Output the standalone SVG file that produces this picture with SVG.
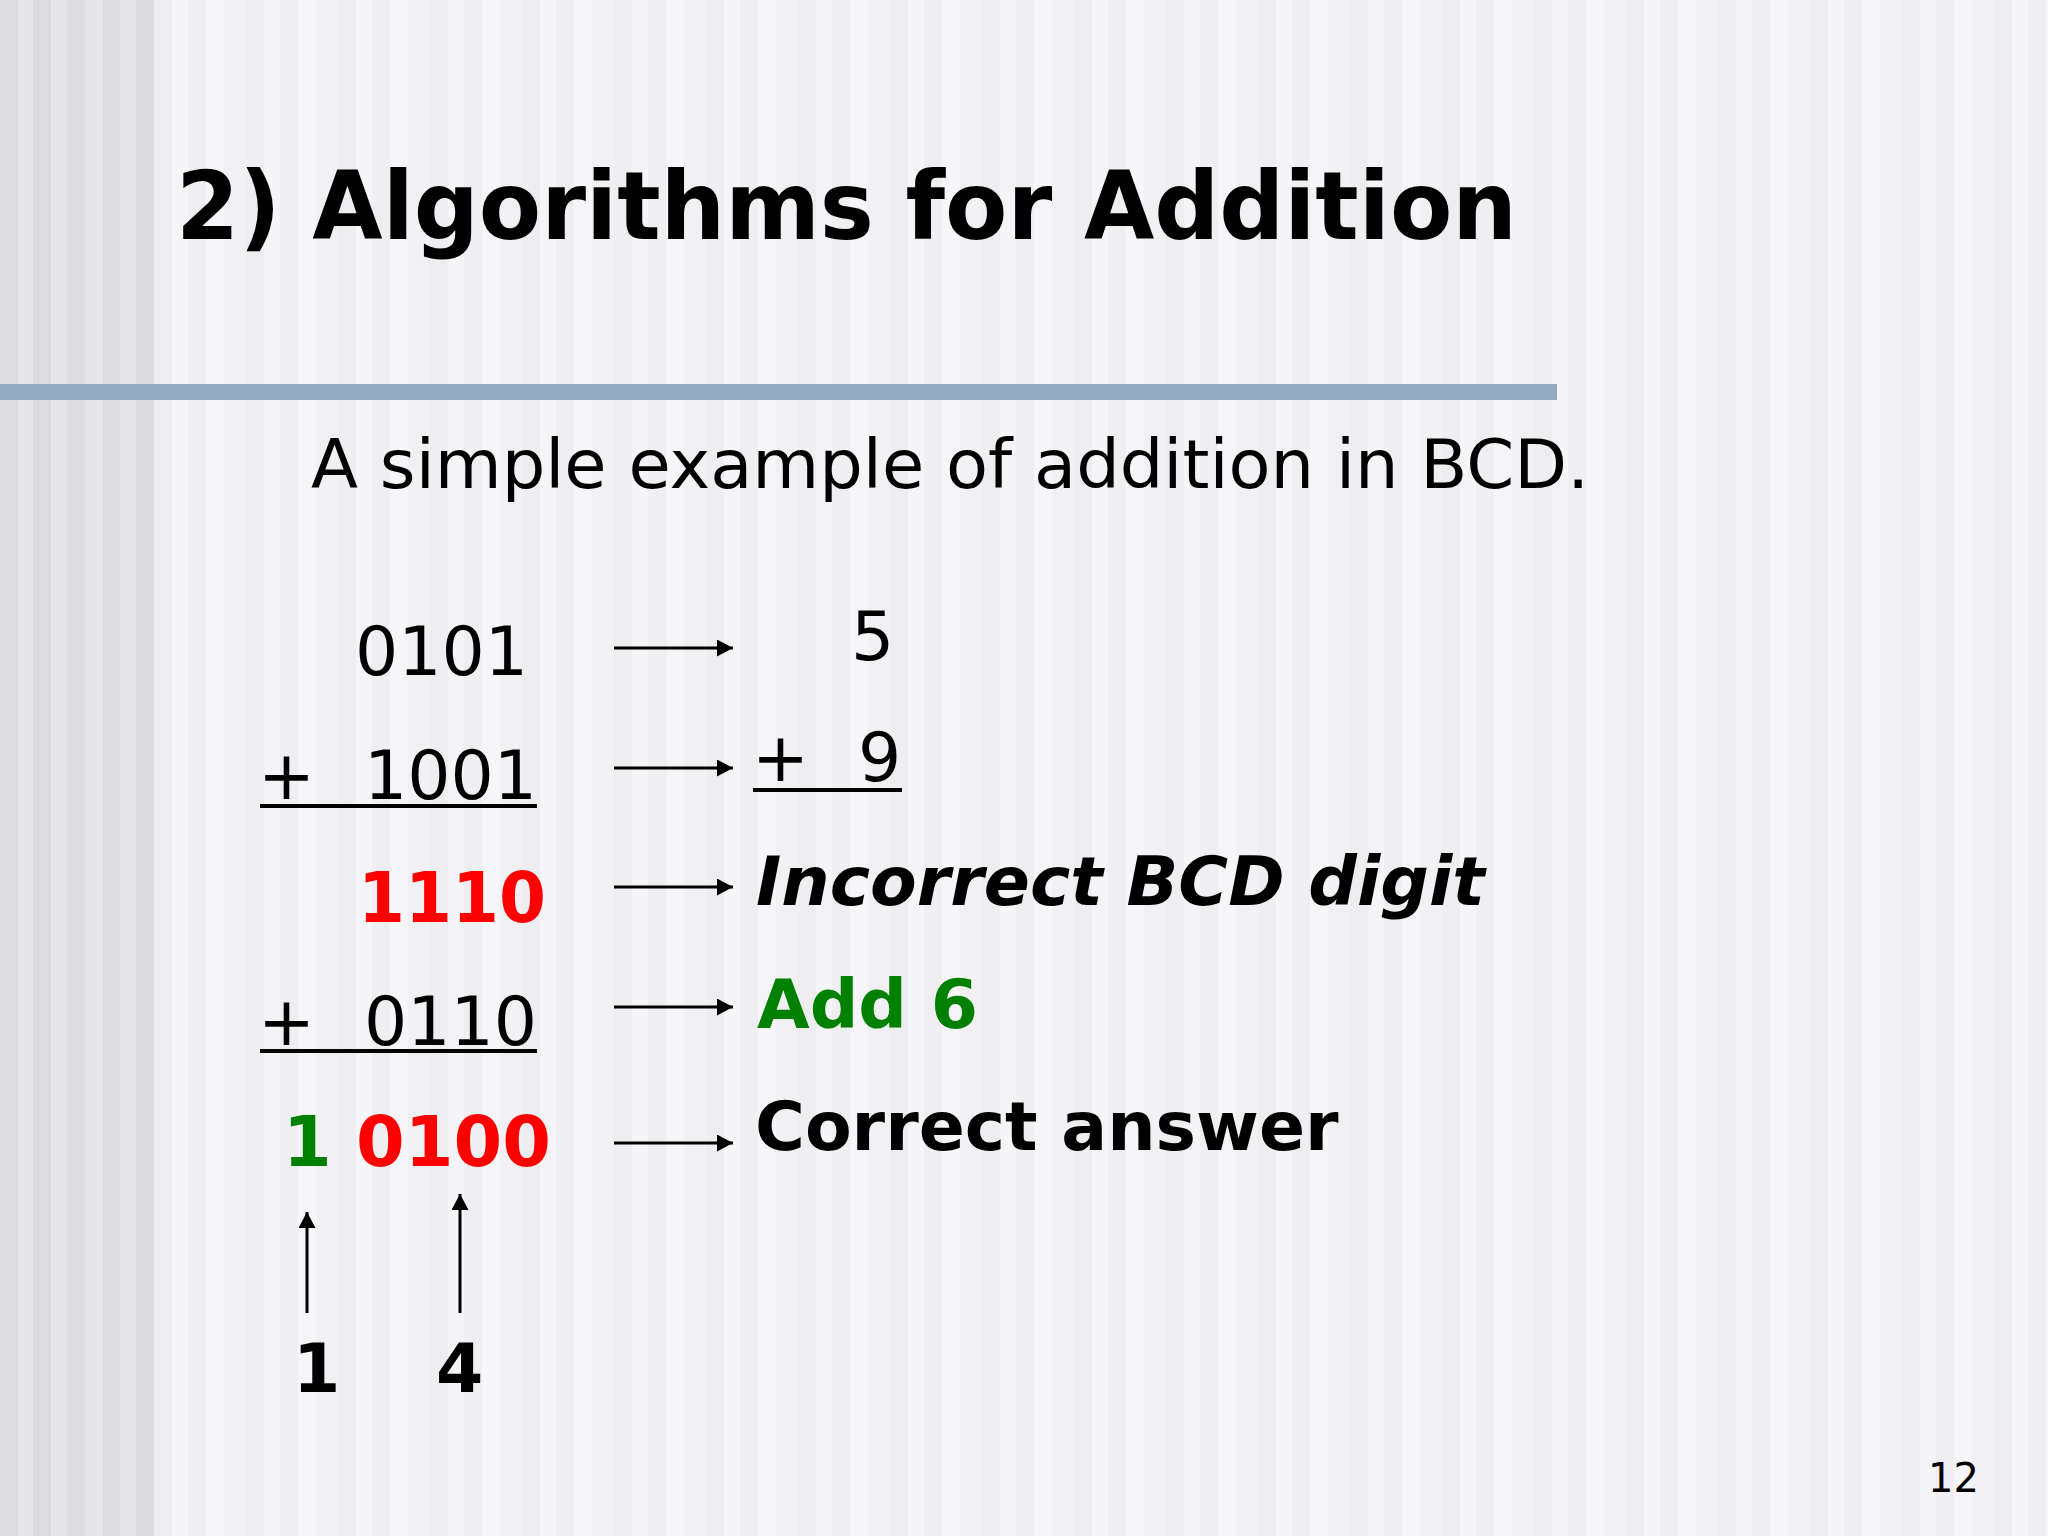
<svg xmlns="http://www.w3.org/2000/svg" width="2048" height="1536" viewBox="0 0 2048 1536">
  <style>
    .t { font-family: "DejaVu Sans", Verdana, sans-serif; fill: #000; }
    .reg { font-size: 68px; font-weight: normal; }
    .bold { font-size: 68px; font-weight: bold; }
    .big { font-size: 70px; font-weight: bold; }
    .red { fill: #ff0000; }
    .green { fill: #008000; }
    .conn line { stroke: #000; stroke-width: 3; }
    .uline { stroke: #000; stroke-width: 4; }
  </style>
  <defs>
    <marker id="ah" viewBox="0 0 16 17" refX="16" refY="8.5" markerWidth="16" markerHeight="17" markerUnits="userSpaceOnUse" orient="auto">
      <path d="M0,0 L16,8.5 L0,17 z" fill="#000"/>
    </marker>
    <pattern id="stripes" x="154" y="0" width="92" height="1536" patternUnits="userSpaceOnUse">
      <rect x="0" y="0" width="92" height="1536" fill="#f1f1f3"/>
      <rect x="0" y="0" width="18" height="1536" fill="#eeeef0"/>
      <rect x="18" y="0" width="16" height="1536" fill="#f5f5f7"/>
      <rect x="34" y="0" width="18" height="1536" fill="#efeff1"/>
      <rect x="52" y="0" width="18" height="1536" fill="#f6f6f8"/>
    </pattern>
  </defs>

  <g id="background">
    <rect x="0" y="0" width="2048" height="1536" fill="url(#stripes)"/>
    <rect x="0" y="0" width="154" height="1536" fill="#e6e6e8"/>
    <rect x="0" y="0" width="18" height="1536" fill="#dddddf"/>
    <rect x="33" y="0" width="18" height="1536" fill="#dcdcde"/>
    <rect x="67" y="0" width="18" height="1536" fill="#dddddf"/>
    <rect x="103" y="0" width="17" height="1536" fill="#dcdcde"/>
    <rect x="136" y="0" width="18" height="1536" fill="#dbdbdd"/>
  </g>

  <g id="title">
    <text class="t" x="176" y="239" font-size="94" font-weight="bold" textLength="1341" lengthAdjust="spacingAndGlyphs">2) Algorithms for Addition</text>
  </g>
  <g id="title-bar">
    <rect x="0" y="384" width="1557" height="16" fill="#93acc4"/>
  </g>
  <g id="subtitle">
    <text class="t reg" x="311" y="488" textLength="1278" lengthAdjust="spacingAndGlyphs">A simple example of addition in BCD.</text>
  </g>

  <g id="row1-binary"><text class="t reg" x="355" y="675">0101</text></g>
  <g id="row2-binary">
    <text class="t reg" y="799"><tspan x="258">+</tspan><tspan x="364">1001</tspan></text>
    <line class="uline" x1="260" y1="806" x2="537" y2="806"/>
  </g>
  <g id="row3-binary"><text class="t big red" x="358" y="922" textLength="188" lengthAdjust="spacingAndGlyphs">1110</text></g>
  <g id="row4-binary">
    <text class="t reg" y="1045"><tspan x="258">+</tspan><tspan x="364">0110</tspan></text>
    <line class="uline" x1="260" y1="1051" x2="537" y2="1051"/>
  </g>
  <g id="row5-binary"><text class="t big" x="283" y="1166"><tspan class="green">1</tspan><tspan class="red"> 0100</tspan></text></g>

  <g id="row1-decimal"><text class="t reg" x="851" y="660">5</text></g>
  <g id="row2-decimal">
    <text class="t reg" y="781"><tspan x="752">+</tspan><tspan x="858">9</tspan></text>
    <line class="uline" x1="753" y1="790" x2="902" y2="790"/>
  </g>
  <g id="row3-label"><text class="t bold" x="756" y="905" font-style="italic">Incorrect BCD digit</text></g>
  <g id="row4-label"><text class="t bold green" x="757" y="1028">Add 6</text></g>
  <g id="row5-label"><text class="t bold" x="755" y="1150">Correct answer</text></g>

  <g id="digit-labels">
    <text class="t bold" y="1392"><tspan x="293">1</tspan><tspan x="436">4</tspan></text>
  </g>

  <g id="page-number"><text class="t" x="1928" y="1492" font-size="40">12</text></g>

  <g id="connectors" class="conn">
    <line x1="614" y1="648" x2="733" y2="648" marker-end="url(#ah)"/>
    <line x1="614" y1="768" x2="733" y2="768" marker-end="url(#ah)"/>
    <line x1="614" y1="887" x2="733" y2="887" marker-end="url(#ah)"/>
    <line x1="614" y1="1007" x2="733" y2="1007" marker-end="url(#ah)"/>
    <line x1="614" y1="1143" x2="733" y2="1143" marker-end="url(#ah)"/>
    <line x1="307" y1="1313" x2="307" y2="1212" marker-end="url(#ah)"/>
    <line x1="460" y1="1313" x2="460" y2="1194" marker-end="url(#ah)"/>
  </g>
</svg>
